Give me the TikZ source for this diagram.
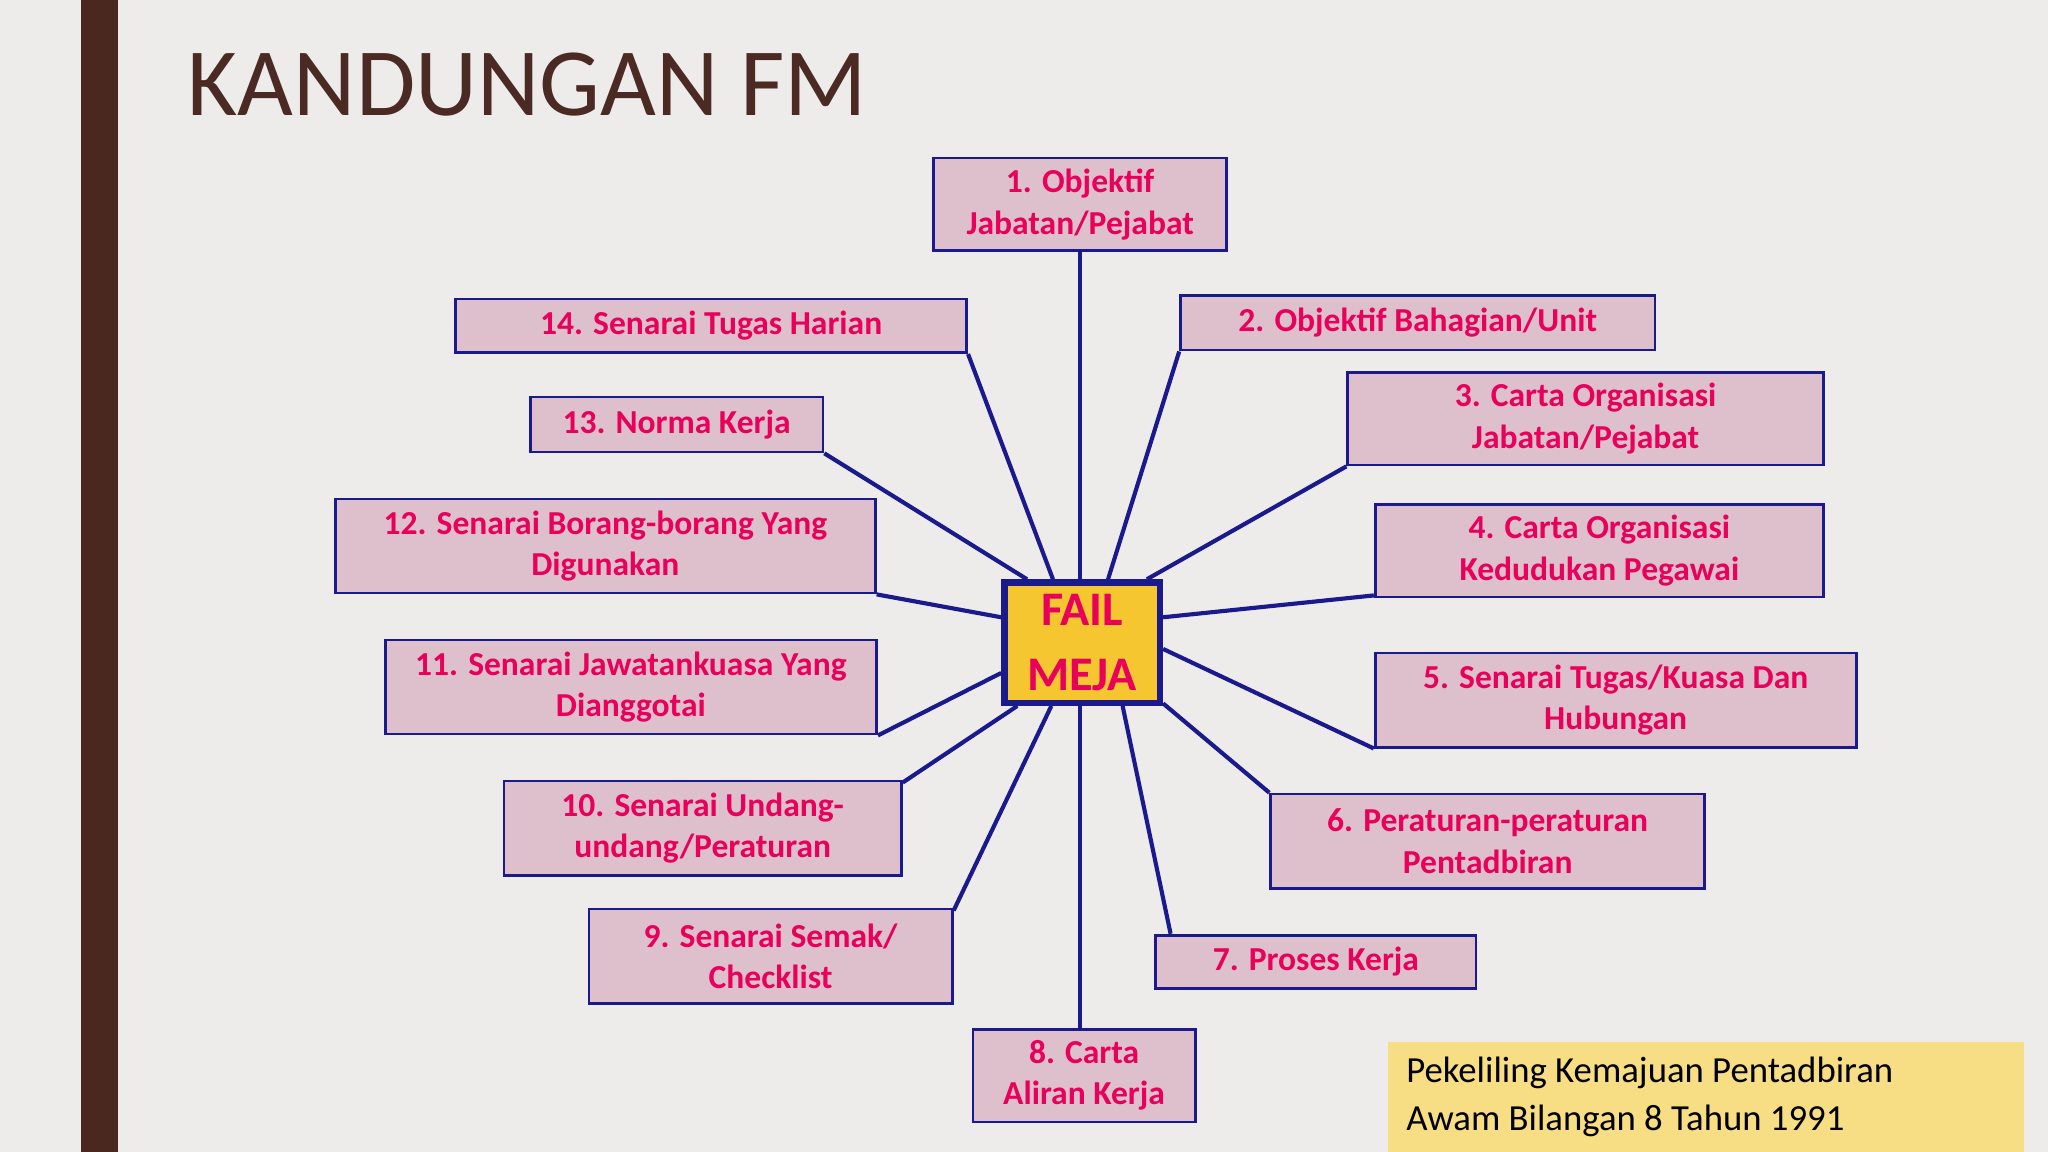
\documentclass[tikz,border=0pt]{standalone}
\usepackage{fontspec}
\setmainfont{Carlito}
\usetikzlibrary{calc}
\definecolor{bg}{HTML}{EEEBEB}
\definecolor{bar}{HTML}{4A2820}
\definecolor{ttl}{HTML}{4A2A22}
\definecolor{pinkt}{HTML}{E8005A}
\definecolor{boxf}{HTML}{DDC0CC}
\definecolor{navy}{HTML}{1A1A8C}
\definecolor{yel}{HTML}{F5C630}
\definecolor{note}{HTML}{F7DE85}
\tikzset{
 itembox/.style={draw=navy,line width=0.6pt,fill=boxf,text=pinkt,font=\fontsize{7.3}{9}\selectfont\bfseries,align=center,inner sep=0pt},
 link/.style={draw=navy,line width=0.9pt},
}
\begin{document}
\begin{tikzpicture}[x=0.01cm,y=-0.01cm]
\fill[bg] (0,0) rectangle (1568,882);
\useasboundingbox (0,0) rectangle (1568,882);
\fill[bar] (62,0) rectangle (90,882);
\node[anchor=west,text=ttl,font=\fontsize{21}{24}\selectfont,inner sep=0pt] (title) at (143,65) {KANDUNGAN FM};
\node[itembox,minimum width=2.24cm,minimum height=0.71cm] (b1) at (827,156.5) {1. Objektif\\Jabatan/Pejabat};
\node[itembox,minimum width=3.63cm,minimum height=0.42cm] (b2) at (1085.5,247) {2. Objektif Bahagian/Unit};
\node[itembox,minimum width=3.64cm,minimum height=0.71cm] (b3) at (1214,320.5) {3. Carta Organisasi\\Jabatan/Pejabat};
\node[itembox,minimum width=3.43cm,minimum height=0.71cm] (b4) at (1224.5,421.5) {4. Carta Organisasi\\Kedudukan Pegawai};
\node[itembox,minimum width=3.68cm,minimum height=0.72cm] (b5) at (1237,536) {5. Senarai Tugas/Kuasa Dan\\Hubungan};
\node[itembox,minimum width=3.32cm,minimum height=0.72cm] (b6) at (1139,644) {6. Peraturan-peraturan\\Pentadbiran};
\node[itembox,minimum width=2.45cm,minimum height=0.41cm] (b7) at (1007.5,736.5) {7. Proses Kerja};
\node[itembox,minimum width=1.70cm,minimum height=0.71cm] (b8) at (830,823.5) {8. Carta\\Aliran Kerja};
\node[itembox,minimum width=2.78cm,minimum height=0.72cm] (b9) at (590,732) {9. Senarai Semak/\\Checklist};
\node[itembox,minimum width=3.04cm,minimum height=0.72cm] (b10) at (538,634) {10. Senarai Undang-\\undang/Peraturan};
\node[itembox,minimum width=3.76cm,minimum height=0.72cm] (b11) at (483,526) {11. Senarai Jawatankuasa Yang\\Dianggotai};
\node[itembox,minimum width=4.13cm,minimum height=0.72cm] (b12) at (463.5,418) {12. Senarai Borang-borang Yang\\Digunakan};
\node[itembox,minimum width=2.24cm,minimum height=0.42cm] (b13) at (518,325) {13. Norma Kerja};
\node[itembox,minimum width=3.91cm,minimum height=0.41cm] (b14) at (544.5,249.5) {14. Senarai Tugas Harian};
\node[draw=navy,line width=1.4pt,fill=yel,text=pinkt,font=\fontsize{10.5}{14}\selectfont\bfseries,align=center,minimum width=1.19cm,minimum height=0.92cm,inner sep=0pt] (c) at (828.5,492) {FAIL\\MEJA};
\draw[link] (b1.south) -- (b1.south |- c.north);
\draw[link] (b2.south west) -- ($(c.north west)!0.66!(c.north east)$);
\draw[link] (b3.south west) -- ($(c.north west)!0.9!(c.north east)$);
\draw[link] ($(b4.south west)!0.03!(b4.north west)$) -- ($(c.north east)!0.3!(c.south east)$);
\draw[link] (b5.south west) -- ($(c.north east)!0.55!(c.south east)$);
\draw[link] (b6.north west) -- ($(c.north east)!0.98!(c.south east)$);
\draw[link] ($(b7.north west)!0.05!(b7.north east)$) -- ($(c.south west)!0.75!(c.south east)$);
\draw[link] (b8.north -| b1.south) -- (b1.south |- c.south);
\draw[link] ($(b9.north east)!0.03!(b9.south east)$) -- ($(c.south west)!0.31!(c.south east)$);
\draw[link] ($(b10.north east)!0.03!(b10.south east)$) -- ($(c.south west)!0.1!(c.south east)$);
\draw[link] (b11.south east) -- ($(c.north west)!0.74!(c.south west)$);
\draw[link] (b12.south east) -- ($(c.north west)!0.3!(c.south west)$);
\draw[link] (b13.south east) -- ($(c.north west)!0.16!(c.north east)$);
\draw[link] (b14.south east) -- ($(c.north west)!0.32!(c.north east)$);
\fill[note] (1063,798) rectangle (1550,882);
\node[anchor=west,align=left,font=\fontsize{8}{10.5}\selectfont,inner sep=0pt] (n) at (1076,840) {Pekeliling Kemajuan Pentadbiran\\Awam Bilangan 8 Tahun 1991};
\end{tikzpicture}
\end{document}
